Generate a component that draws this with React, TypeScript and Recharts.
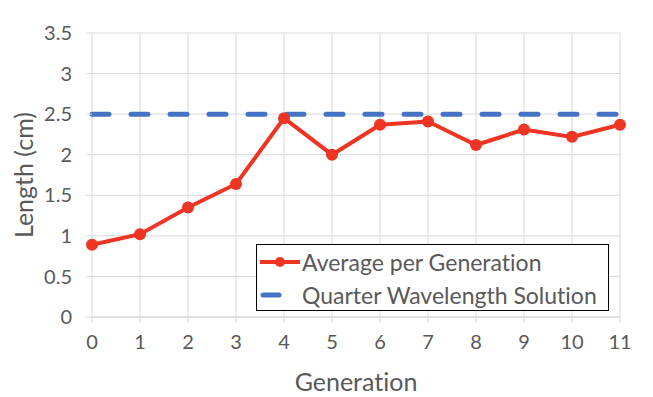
import React from 'react';
import { LineChart, Line, XAxis, YAxis, CartesianGrid } from 'recharts';

const generations = [0, 1, 2, 3, 4, 5, 6, 7, 8, 9, 10, 11];
const averagePerGeneration = [0.89, 1.02, 1.35, 1.64, 2.45, 2.0, 2.37, 2.41, 2.12, 2.31, 2.22, 2.37];
const quarterWavelength = [2.5, 2.5, 2.5, 2.5, 2.5, 2.5, 2.5, 2.5, 2.5, 2.5, 2.5, 2.5];
const yTicks = [0, 0.5, 1, 1.5, 2, 2.5, 3, 3.5];
const seriesNames = ['Average per Generation', 'Quarter Wavelength Solution'];

const data = generations.map((g, i) => ({
  gen: g,
  avg: averagePerGeneration[i],
  quarter: quarterWavelength[i],
}));

const textColor = '#595959';
const gridColor = '#d9d9d9';
const red = '#ee3524';
const blue = '#4472c4';
const font = 'Lato, "Open Sans", sans-serif';
const noLig = { fontVariantLigatures: 'none' as const };

// legend drawn as a plain box over the plot, like the Excel original
const LegendBox = () => (
  <div
    style={{
      position: 'absolute', left: 256, top: 244, width: 348, height: 65,
      border: '1px solid #000', background: '#fff', padding: '0 0 0 3px',
      fontFamily: font, ...noLig,
    }}
  >
    {seriesNames.map((name, i) => (
      <div key={name} style={{ display: 'flex', alignItems: 'center', height: 33 }}>
        <svg width={42} height={14}>
          {i === 0 ? (
            <g>
              <line x1={0} y1={7} x2={40} y2={7} stroke={red} strokeWidth={4} />
              <circle cx={20} cy={7} r={5} fill={red} />
            </g>
          ) : (
            <line x1={3} y1={7} x2={19} y2={7} stroke={blue} strokeWidth={5} strokeLinecap="round" />
          )}
        </svg>
        <span style={{ color: textColor, fontSize: 23 }}>{name}</span>
      </div>
    ))}
  </div>
);

const App: React.FC = () => {
  return (
    <div style={{ position: 'absolute', left: 0, top: 0, width: 653, height: 397, background: '#fff' }}>
      <LineChart width={653} height={397} data={data} margin={{ top: 33, right: 33, left: 0, bottom: 0 }}>
        <CartesianGrid stroke={gridColor} strokeWidth={1} />
        <XAxis
          dataKey="gen"
          type="number"
          domain={[0, 11]}
          ticks={generations}
          height={80}
          stroke={gridColor}
          tickSize={6}
          tickMargin={12}
          tick={{ fill: textColor, fontSize: 20, fontFamily: font, style: noLig }}
          label={{ value: 'Generation', position: 'insideBottom', offset: 6, fill: textColor, fontSize: 25, fontFamily: font, style: noLig }}
        />
        <YAxis
          domain={[0, 3.5]}
          ticks={yTicks}
          width={92}
          axisLine={false}
          stroke={gridColor}
          tickSize={6}
          tickMargin={14}
          tick={{ fill: textColor, fontSize: 20, fontFamily: font, style: noLig }}
          label={{ value: 'Length (cm)', angle: -90, position: 'insideLeft', offset: 24, fill: textColor, fontSize: 25, fontFamily: font, style: { textAnchor: 'middle', ...noLig } }}
        />
        <Line
          dataKey="avg"
          name={seriesNames[0]}
          stroke={red}
          strokeWidth={4}
          dot={{ r: 6, fill: red, stroke: red, strokeWidth: 0 }}
          isAnimationActive={false}
        />
        <Line
          dataKey="quarter"
          name={seriesNames[1]}
          stroke={blue}
          strokeWidth={5}
          strokeDasharray="17 22"
          strokeLinecap="round"
          dot={false}
          isAnimationActive={false}
        />
      </LineChart>
      <LegendBox />
    </div>
  );
};

export default App;
